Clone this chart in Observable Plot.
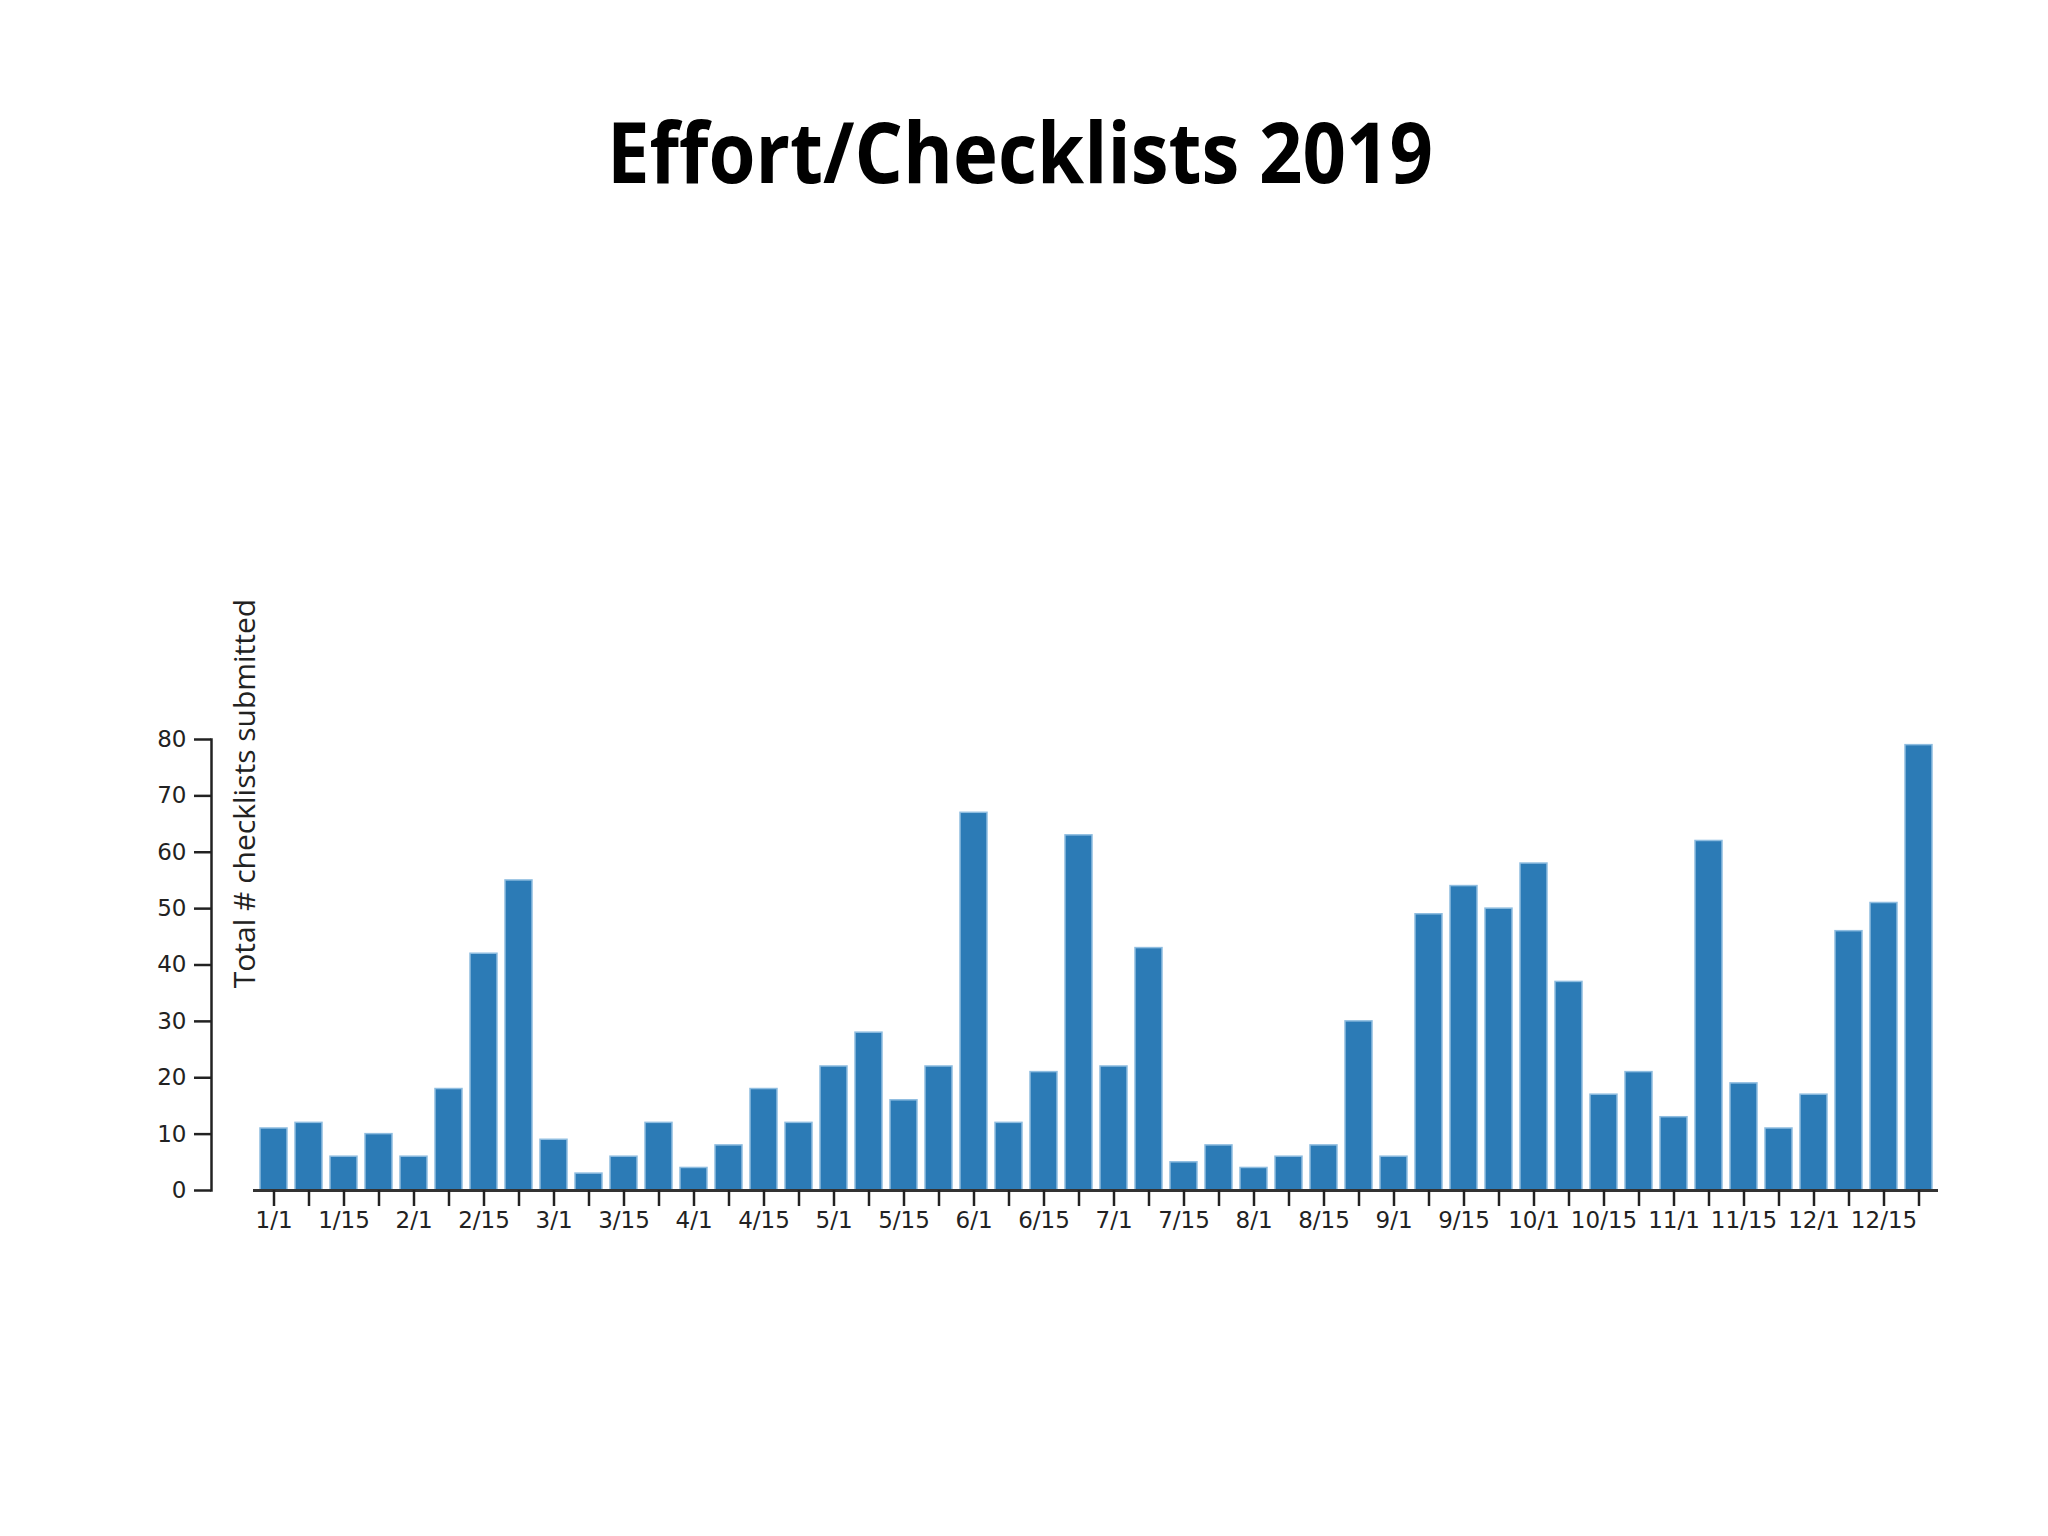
<!DOCTYPE html>
<html>
<head>
<meta charset="utf-8">
<script src="https://cdn.jsdelivr.net/npm/d3@7"></script>
<script src="https://cdn.jsdelivr.net/npm/@observablehq/plot@0.6"></script>
<style>
  body { margin: 0; background: #fff; }
  #wrap { position: relative; width: 2048px; height: 1536px; overflow: hidden; background: #fff; }
  #title, #chart svg { display: block; }
</style>
</head>
<body>
<div id="wrap">
  <svg id="title" width="2048" height="260">
    <text x="1020" y="183" text-anchor="middle" font-family="Open Sans, Lato, sans-serif" font-weight="700" font-size="84" textLength="826" lengthAdjust="spacingAndGlyphs" fill="#000">Effort/Checklists 2019</text>
  </svg>
  <div id="chart"></div>
</div>
<script>
// Tick labels (every other period)
const tickLabels = ["1/1","1/15","2/1","2/15","3/1","3/15","4/1","4/15","5/1","5/15","6/1","6/15",
                    "7/1","7/15","8/1","8/15","9/1","9/15","10/1","10/15","11/1","11/15","12/1","12/15"];
// Checklists submitted per period (48 periods, ~weekly)
const checklists = [11,12,6,10,6,18,42,55,9,3,6,12,4,8,18,12,22,28,16,22,67,12,21,63,22,43,5,8,4,6,
                    8,30,6,49,54,50,58,37,17,21,13,62,19,11,17,46,51,79];
const yTicks = [0,10,20,30,40,50,60,70,80];
const yLabel = "Total # checklists submitted";

const data = checklists.map((v, i) => ({period: i, value: v}));

const chart = Plot.plot({
  width: 2048,
  height: 1276,
  marginTop: 479,
  marginBottom: 346,
  marginLeft: 211,
  marginRight: 110,
  style: {background: "transparent", fontFamily: "DejaVu Sans, sans-serif", color: "#222"},
  x: {type: "band", domain: d3.range(checklists.length), paddingInner: 0.23, paddingOuter: 0.115, insetLeft: 42},
  y: {domain: [0, 80]},
  marks: [
    Plot.barY(data, {x: "period", y: "value", fill: "#2c7bb6", stroke: "#8fbde0", strokeWidth: 1.5}),
    Plot.ruleY([0], {insetLeft: 42, stroke: "#333", strokeWidth: 3}),
    Plot.frame({anchor: "left", stroke: "#222", strokeWidth: 2.5}),
    Plot.axisY({ticks: yTicks, tickSize: 17, tickPadding: 8, fontSize: 23, label: null, strokeWidth: 2.5}),
    Plot.axisX({tickSize: 16, tickPadding: 5, fontSize: 23, label: null, strokeWidth: 2.5,
                tickFormat: i => (i % 2 === 0 ? tickLabels[i / 2] : "")}),
    Plot.text([yLabel], {frameAnchor: "top-left", dx: 22, dy: 54, rotate: -90, textAnchor: "middle",
                         fontSize: 30, fontFamily: "Open Sans, sans-serif", fill: "#222", text: d => d})
  ]
});
document.getElementById("chart").appendChild(chart);
</script>
</body>
</html>
